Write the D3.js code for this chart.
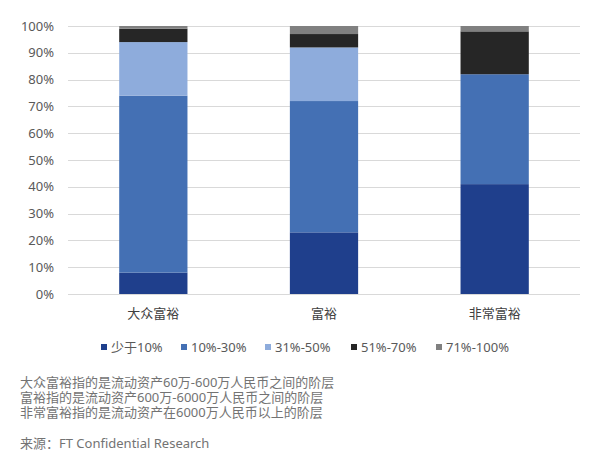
<!DOCTYPE html>
<meta charset="utf-8">
<title>Stacked bars</title>
<head>
  <script src="https://d3js.org/d3.v7.min.js"></script>
  <style>
    body { margin: 0; background: #fff; }
    text { font-family: "Noto Sans", "Noto Sans CJK SC", sans-serif; fill: #595959; }
  </style>
</head>
<body>
  <div id="chart"></div>
</body>
<script>
    // data
    var categories = ["大众富裕", "富裕", "非常富裕"];
    var seriesNames = ["少于10%", "10%-30%", "31%-50%", "51%-70%", "71%-100%"];
    var seriesColors = ["#1f3f8c", "#4470b4", "#8eacdc", "#262626", "#808080"];
    var s1 = [8, 23, 41];
    var s2 = [66, 49, 41];
    var s3 = [20, 20, 0];
    var s4 = [5, 5, 16];
    var s5 = [1, 3, 2];
    var yTicks = [0, 10, 20, 30, 40, 50, 60, 70, 80, 90, 100];
    var notes = [
      "大众富裕指的是流动资产60万-600万人民币之间的阶层",
      "富裕指的是流动资产600万-6000万人民币之间的阶层",
      "非常富裕指的是流动资产在6000万人民币以上的阶层"
    ];
    var source = "来源：FT Confidential Research";

    var W = 594, H = 461;
    var margin = {top: 26, left: 68, right: 14, bottom: 167};
    var width = W - margin.left - margin.right,
        height = H - margin.top - margin.bottom;

    var svg = d3.select("#chart").append("svg")
        .attr("width", W).attr("height", H);
    var g = svg.append("g")
        .attr("transform", "translate(" + margin.left + "," + margin.top + ")");

    var table = categories.map(function(c, i) {
      return {cat: c, "少于10%": s1[i], "10%-30%": s2[i], "31%-50%": s3[i], "51%-70%": s4[i], "71%-100%": s5[i]};
    });
    var stack = d3.stack().keys(seriesNames)(table);

    var x = d3.scaleBand().domain(categories).range([0, width]).paddingInner(0.6).paddingOuter(0.3);
    var y = d3.scaleLinear().domain([0, 100]).range([height, 0]);

    // gridlines
    g.selectAll(".grid").data(yTicks).enter().append("line")
        .attr("x1", 0).attr("x2", width)
        .attr("y1", function(d) { return Math.round(y(d)) + 0.5; })
        .attr("y2", function(d) { return Math.round(y(d)) + 0.5; })
        .attr("stroke", "#d9d9d9").attr("stroke-width", 1);

    // y labels
    var yAxis = g.append("g").attr("transform", "translate(-14,0)")
        .call(d3.axisLeft(y).tickValues(yTicks).tickSize(0).tickFormat(function(d) { return d + "%"; }));
    yAxis.select(".domain").remove();
    yAxis.selectAll("text").style("font-size", "13px").attr("x", 0);

    // bars
    g.selectAll(".layer").data(stack).enter().append("g")
        .attr("fill", function(d, i) { return seriesColors[i]; })
      .selectAll("rect").data(function(d) { return d; }).enter().append("rect")
        .attr("x", function(d) { return x(d.data.cat); })
        .attr("width", x.bandwidth())
        .attr("y", function(d) { return y(d[1]); })
        .attr("height", function(d) { return y(d[0]) - y(d[1]); });

    // x labels
    var xAxis = g.append("g").attr("transform", "translate(0," + height + ")")
        .call(d3.axisBottom(x).tickSize(0).tickPadding(15));
    xAxis.select(".domain").remove();
    xAxis.selectAll("text").style("font-size", "13px").style("fill", "#404040");

    // legend
    var legendX = [101, 181, 265, 351, 436];
    var legend = svg.selectAll(".leg").data(seriesNames).enter().append("g")
        .attr("transform", function(d, i) { return "translate(" + legendX[i] + ",347)"; });
    legend.append("rect").attr("x", 0).attr("y", -3).attr("width", 6).attr("height", 6)
        .attr("fill", function(d, i) { return seriesColors[i]; });
    legend.append("text").attr("x", 10).attr("dy", "0.35em")
        .style("font-size", "13px").text(function(d) { return d; });

    // notes
    svg.selectAll(".note").data(notes).enter().append("text")
        .attr("x", 20).attr("y", function(d, i) { return 382 + i * 15; })
        .attr("dy", "0.35em").style("font-size", "13px").style("fill", "#737373")
        .text(function(d) { return d; });
    svg.append("text").attr("x", 20).attr("y", 443).attr("dy", "0.35em")
        .style("font-size", "13px").style("fill", "#737373").text(source);
</script>
